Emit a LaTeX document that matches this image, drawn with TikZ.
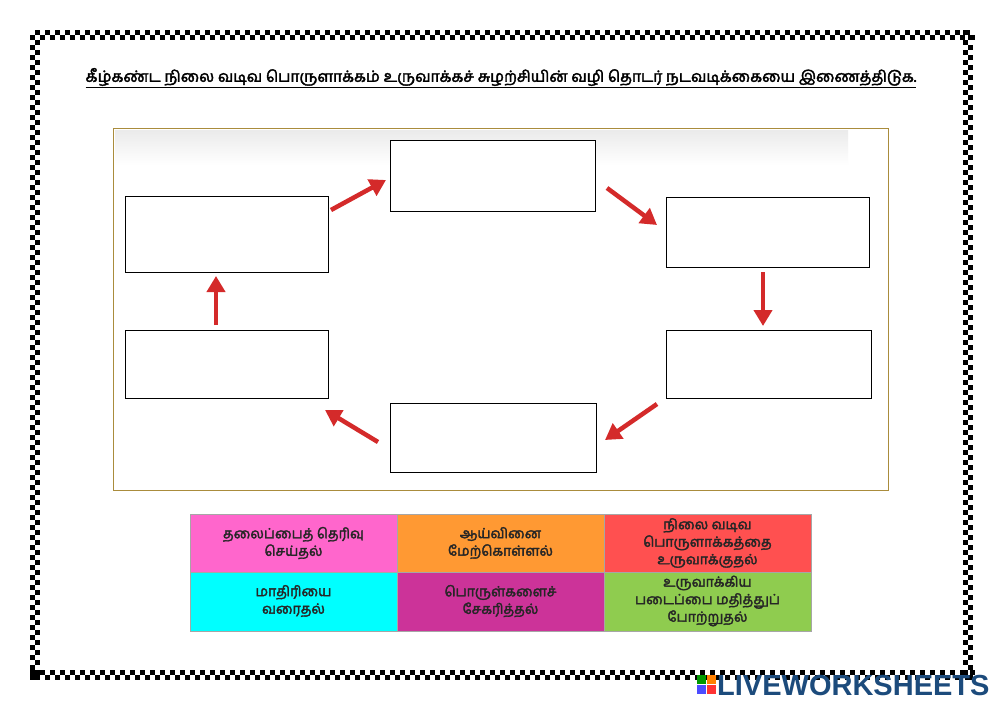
\documentclass[tikz,border=0pt]{standalone}
\usepackage{fontspec}
\newfontfamily\tam[Script=Tamil,AutoFakeBold=2.5]{Hind Madurai}
\setmainfont{Liberation Sans}
\usetikzlibrary{arrows.meta}
\definecolor{arr}{HTML}{D42A2A}
\definecolor{lw}{HTML}{1C4B7C}
\tikzset{
  blank/.style={draw=black,line width=0.8pt,fill=white},
  rarrow/.style={draw=arr,line width=4.5pt,-{Triangle[length=16pt,width=18pt]}},
  cell/.style={draw=gray!70,line width=0.5pt},
  ctext/.style={font=\tam\bfseries\fontsize{14}{17.5}\selectfont,align=center,text=black!85}
}
\begin{document}
\begin{tikzpicture}[x=1pt,y=-1pt]
\useasboundingbox (0,0) rectangle (1000,707);
\fill[white] (0,0) rectangle (1000,707);
% checkered border
\foreach \i in {0,...,188}{
  \pgfmathsetmacro\xa{30+5*\i}
  \ifodd\i
    \fill (\xa,30) rectangle ++(5,5); \fill (\xa,675) rectangle ++(5,5);
  \else
    \fill (\xa,35) rectangle ++(5,5); \fill (\xa,670) rectangle ++(5,5);
  \fi
}
\foreach \j in {0,...,129}{
  \pgfmathsetmacro\ya{30+5*\j}
  \ifodd\j
    \fill (30,\ya) rectangle ++(5,5); \fill (968,\ya) rectangle ++(5,5);
  \else
    \fill (35,\ya) rectangle ++(5,5); \fill (963,\ya) rectangle ++(5,5);
  \fi
}
% title
\node[font=\tam\bfseries\fontsize{15.5}{17}\selectfont,anchor=center] (title) at (501,78)
  {\underline{கீழ்கண்ட நிலை வடிவ பொருளாக்கம் உருவாக்கச் சுழற்சியின் வழி தொடர் நடவடிக்கையை இணைத்திடுக.}};
% panel
\shade[top color=black!8,bottom color=white] (115,130) rectangle (848,165);
\draw[draw={rgb,255:red,170;green,140;blue,60},line width=0.8pt] (113,128) rectangle (888,490);
% boxes
\node[blank,minimum width=205pt,minimum height=71pt] (top) at (492.5,175.5) {};
\node[blank,minimum width=203pt,minimum height=76pt] (lu) at (226.5,234) {};
\node[blank,minimum width=203pt,minimum height=70pt] (ru) at (767.5,232) {};
\node[blank,minimum width=203pt,minimum height=68pt] (ll) at (226.5,364) {};
\node[blank,minimum width=205pt,minimum height=68pt] (rl) at (768.5,364) {};
\node[blank,minimum width=206pt,minimum height=69pt] (bot) at (493,437.5) {};
% arrows
\coordinate (a1s) at (331,210); \coordinate (a1e) at (386,180);
\coordinate (a2s) at (607,188); \coordinate (a2e) at (657,225);
\coordinate (a3s) at (763,272); \coordinate (a3e) at (763,326);
\coordinate (a4s) at (657,404); \coordinate (a4e) at (605,440);
\coordinate (a5s) at (378,442); \coordinate (a5e) at (325,410);
\coordinate (a6s) at (216,325); \coordinate (a6e) at (216,276);
\foreach \n in {1,...,6}{\draw[rarrow] (a\n s) -- (a\n e);}
% table
\fill[cell,fill={rgb,255:red,255;green,102;blue,204}] (190,514) rectangle (397,572);
\fill[cell,fill={rgb,255:red,255;green,153;blue,51}] (397,514) rectangle (604,572);
\fill[cell,fill={rgb,255:red,255;green,80;blue,80}] (604,514) rectangle (811,572);
\fill[cell,fill={rgb,255:red,0;green,255;blue,255}] (190,572) rectangle (397,631);
\fill[cell,fill={rgb,255:red,204;green,51;blue,153}] (397,572) rectangle (604,631);
\fill[cell,fill={rgb,255:red,143;green,204;blue,79}] (604,572) rectangle (811,631);
\draw[gray!70] (190,514) rectangle (811,631) (397,514) -- (397,631) (604,514) -- (604,631) (190,572) -- (811,572);
\node[ctext] (c1) at (293.5,543) {தலைப்பைத் தெரிவு\\செய்தல்};
\node[ctext] (c2) at (500.5,543) {ஆய்வினை\\மேற்கொள்ளல்};
\node[ctext] (c3) at (707.5,543) {நிலை வடிவ\\பொருளாக்கத்தை\\உருவாக்குதல்};
\node[ctext] (c4) at (293.5,601) {மாதிரியை\\வரைதல்};
\node[ctext] (c5) at (500.5,601) {பொருள்களைச்\\சேகரித்தல்};
\node[ctext] (c6) at (707.5,601) {உருவாக்கிய\\படைப்பை மதித்துப்\\போற்றுதல்};
% logo
\fill[green!60!black] (697,675) rectangle (706,684);
\fill[orange] (707,675) rectangle (716,684);
\fill[blue!70] (697,685) rectangle (706,694);
\fill[red!80] (707,685) rectangle (716,694);
\node[font=\bfseries\fontsize{29}{30}\selectfont,text=lw,anchor=west,inner sep=0pt] (logo) at (717,686) {LIVEWORKSHEETS};
\end{tikzpicture}
\end{document}
